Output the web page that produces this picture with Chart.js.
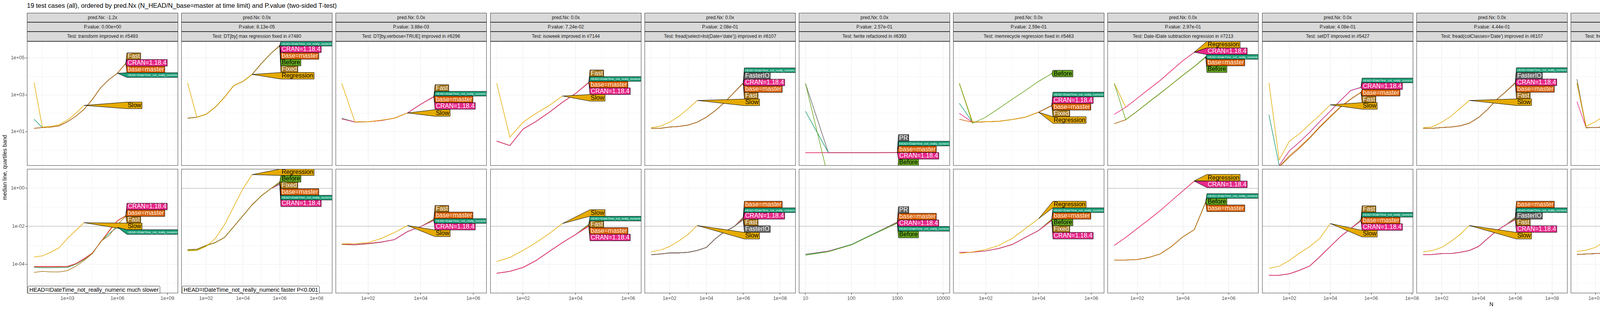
<!DOCTYPE html>
<html>
<head>
<meta charset="utf-8">
<script src="https://cdn.jsdelivr.net/npm/chart.js@4/dist/chart.umd.min.js"></script>
<style>
body{margin:0;background:#fff;width:7600px;height:800px;position:relative;overflow:hidden;font-family:"Liberation Sans",Arial,sans-serif;}
.strip{position:absolute;background:#d9d9d9;border:1px solid #333;box-sizing:border-box;font-size:12px;color:#1a1a1a;text-align:center;line-height:22px;white-space:nowrap;overflow:hidden;}
.rstrip{position:absolute;background:#d9d9d9;border:1px solid #333;box-sizing:border-box;font-size:12px;color:#1a1a1a;writing-mode:vertical-rl;text-align:center;line-height:20px;}
.note{position:absolute;background:#fff;border:1px solid #333;border-radius:3px;font-size:14.5px;line-height:18px;padding:0 3px;white-space:nowrap;color:#000;}
canvas{position:absolute;}
</style>
</head>
<body>
<script>
// ---- data ----
const N_half = [10, 31.6, 100, 316, 1000, 3162, 1e4, 31623, 1e5, 316228, 1e6, 3162278, 1e7];
const N_fwrite = [10, 31.6, 100, 316, 1000];
const N_melt = [10, 31.6, 100, 316, 1000];
const N_disk = [1, 2, 4, 8, 16, 32];

const predNx = ["-1.2x","0.0x","0.0x","0.0x","0.0x","0.0x","0.0x","0.0x","0.0x","0.0x","0.0x","0.0x","0.0x","0.0x","0.0x","0.0x","0.0x","0.0x","0.0x"];
const pValues = ["0.00e+00","8.13e-05","3.88e-03","7.24e-02","2.08e-01","2.57e-01","2.59e-01","2.97e-01","4.08e-01","4.44e-01","4.59e-01","5.97e-01","7.54e-01","7.68e-01","7.81e-01","8.75e-01","8.82e-01","9.19e-01","9.88e-01"];
const testNames = ["transform improved in #5493","DT[by] max regression fixed in #7480","DT[by,verbose=TRUE] improved in #6296","isoweek improved in #7144","fread(select=list(Date='date')) improved in #6107","fwrite refactored in #6393","memrecycle regression fixed in #5463","Date-IDate subtraction regression in #7213","setDT improved in #5427","fread(colClasses='Date') improved in #6107","fread(colClasses=list(Date='date')) improved in #6107","forderv(retGrp=F) improved in #4386","DT[,.SD] improved in #4501","shallow regression fixed in #4440","as.data.table.array improved in #7019","melt improved in #5054","fread disk overhead improved in #6925","DT[by] fixed in #4558","forderv(retGrp=T) improved in #4386"];

const xt_e369 = ["1e+03","1e+06","1e+09"];
const xt_e2468 = ["1e+02","1e+04","1e+06","1e+08"];
const xt_e246 = ["1e+02","1e+04","1e+06"];
const xt_plain4 = ["10","100","1000","10000"];
const xt_plain2 = ["1","10","100"];
const yt_kb = ["1e+01","1e+03","1e+05"];
const yt_sec = ["1e-04","1e-02","1e+00"];

const kb_transform = [
  ["Slow", [4700, 18, 19.5, 24, 43, 100, 270]],
  ["Fast", [15.5, 17, 18, 21, 35, 69, 166, 575, 2500, 6900, 15000, 52000]],
  ["base", [15.5, 17, 18, 21, 35, 69, 166, 575, 2500, 6900, 15000, 50000]],
  ["CRAN", [15.5, 17, 18, 21, 35, 69, 166, 575, 2500, 6900, 15000, 51000]],
  ["HEAD", [48, 17, 18, 21, 35, 69, 166, 575, 2500, 6900, 15000]]
];
const sec_transform = [
  ["Slow", [2.45e-4, 2.8e-4, 4.3e-4, 7.4e-4, 2.3e-3, 6e-3, 1.55e-2]],
  ["Fast", [3.8e-5, 4.3e-5, 4e-5, 4e-5, 4.7e-5, 7.9e-5, 1.6e-4, 3.7e-4, 1.6e-3, 3.3e-3, 1.2e-2, 3.4e-2]],
  ["base", [7.5e-5, 7.3e-5, 7.3e-5, 7.4e-5, 7.5e-5, 1.05e-4, 1.9e-4, 3.9e-4, 1.5e-3, 5.5e-3, 1.9e-2, 3.5e-2]],
  ["CRAN", [7.9e-5, 7.9e-5, 7.9e-5, 7.9e-5, 7.9e-5, 1.1e-4, 2e-4, 4e-4, 1.5e-3, 6e-3, 2e-2, 3.6e-2]],
  ["HEAD", [6.9e-5, 6.7e-5, 6.7e-5, 6.8e-5, 6.9e-5, 1e-4, 1.8e-4, 3.7e-4, 1.6e-3, 4.2e-3, 8.9e-3]]
];

const kb_maxreg = [
  ["Regression", [4400, 62, 89, 214, 740, 3200, 5400, 12900]],
  ["Fixed", [54, 62, 89, 214, 740, 3200, 5400, 12900, 50000, 170000, 450000]],
  ["Before", [54, 62, 89, 214, 740, 3200, 5400, 12900, 50000, 170000, 460000]],
  ["base", [54, 62, 89, 214, 740, 3200, 5400, 12900, 50000, 170000, 470000]],
  ["CRAN", [54, 62, 89, 214, 740, 3200, 5400, 12900, 50000, 170000, 480000]],
  ["HEAD", [54, 62, 89, 214, 740, 3200, 5400, 12900, 50000, 170000, 490000]]
];
const sec_maxreg = [
  ["Regression", [5.1e-4, 5.4e-4, 8.7e-4, 2.3e-3, 1.2e-2, 0.107, 0.93, 5.2]],
  ["Fixed", [6e-4, 6.2e-4, 1e-3, 1.4e-3, 2.6e-3, 9.6e-3, 3.6e-2, 0.135, 0.4, 0.93, 2.1]],
  ["Before", [5.5e-4, 5.7e-4, 9.4e-4, 1.4e-3, 2.6e-3, 9.6e-3, 3.6e-2, 0.135, 0.4, 0.93, 2.2]],
  ["base", [6e-4, 6.2e-4, 1e-3, 1.4e-3, 2.6e-3, 9.6e-3, 3.6e-2, 0.135, 0.4, 0.93, 2.0]],
  ["HEAD", [6e-4, 6.2e-4, 1e-3, 1.4e-3, 2.6e-3, 9.6e-3, 3.6e-2, 0.135, 0.4, 0.93, 1.8]],
  ["CRAN", [6e-4, 6.2e-4, 1e-3, 1.4e-3, 2.6e-3, 9.6e-3, 3.6e-2, 0.135, 0.4, 0.93, 1.6]]
];

const kb_verbose = [
  ["Slow", [4200, 35, 35, 43, 54, 105]],
  ["CRAN", [50, 34, 35, 41, 55, 105, 310, 780]],
  ["base", [50, 34, 35, 41, 55, 105, 310, 790]],
  ["HEAD", [54, 34, 35, 41, 55, 105, 310, 800]],
  ["Fast", [50, 34, 35, 41, 55, 105, 310, 820]]
];
const sec_verbose = [
  ["Slow", [1.2e-3, 1.25e-3, 1.4e-3, 2.3e-3, 4.7e-3, 1.1e-2]],
  ["CRAN", [1.17e-3, 1.1e-3, 1.26e-3, 1.5e-3, 2e-3, 5.3e-3, 9.6e-3, 2.0e-2]],
  ["HEAD", [1.17e-3, 1.1e-3, 1.26e-3, 1.5e-3, 2e-3, 5.3e-3, 9.6e-3, 2.1e-2]],
  ["base", [1.17e-3, 1.1e-3, 1.26e-3, 1.5e-3, 2e-3, 5.3e-3, 9.6e-3, 2.2e-2]],
  ["Fast", [1.1e-3, 1.05e-3, 1.2e-3, 1.45e-3, 2e-3, 5.3e-3, 9.6e-3, 2.4e-2]]
];

const kb_isoweek = [
  ["Slow", [4200, 5.1, 33, 100, 270, 870]],
  ["CRAN", [3.1, 1.8, 14, 37, 115, 400, 1200, 4600]],
  ["base", [3.1, 1.8, 14, 37, 115, 400, 1200, 4700]],
  ["HEAD", [3.1, 1.8, 14, 37, 115, 400, 1200, 4800]],
  ["Fast", [3.1, 1.8, 14, 37, 115, 400, 1200, 4900]]
];
const sec_isoweek = [
  ["Slow", [1.44e-4, 2.3e-4, 5.4e-4, 1.4e-3, 4.2e-3, 1.4e-2]],
  ["CRAN", [3.4e-5, 4.3e-5, 6.9e-5, 1.6e-4, 4.8e-4, 1.4e-3, 3.7e-3, 1.0e-2]],
  ["base", [3.4e-5, 4.3e-5, 6.9e-5, 1.6e-4, 4.8e-4, 1.4e-3, 3.7e-3, 1.1e-2]],
  ["Fast", [3.4e-5, 4.3e-5, 6.9e-5, 1.6e-4, 4.8e-4, 1.4e-3, 3.7e-3, 1.2e-2]],
  ["HEAD", [3.4e-5, 4.3e-5, 6.9e-5, 1.6e-4, 4.8e-4, 1.4e-3, 3.7e-3, 1.3e-2]]
];

const kb_select = [
  ["Slow", [16.6, 20, 33, 69, 174, 500]],
  ["Fast", [15.5, 15.5, 18, 19.5, 23, 33, 62, 145, 400, 1350, 4200]],
  ["base", [15.5, 15.5, 18, 19.5, 23, 33, 62, 145, 400, 1350, 4300]],
  ["CRAN", [15.5, 15.5, 18, 19.5, 23, 33, 62, 145, 400, 1350, 4400]],
  ["FasterIO", [15.5, 15.5, 18, 19.5, 23, 33, 62, 145, 400, 1350, 4500]],
  ["HEAD", [15.5, 15.5, 18, 19.5, 23, 33, 62, 145, 400, 1350, 4600]]
];
const sec_select = [
  ["Slow", [4.6e-4, 5.6e-4, 8.7e-4, 1.7e-3, 3.7e-3, 1.1e-2]],
  ["FasterIO", [3.2e-4, 3.5e-4, 4e-4, 4e-4, 4.3e-4, 5.4e-4, 7.8e-4, 2.3e-3, 5.3e-3, 9.6e-3, 2.2e-2]],
  ["Fast", [3.2e-4, 3.5e-4, 4e-4, 4e-4, 4.3e-4, 5.4e-4, 7.8e-4, 2.3e-3, 5.3e-3, 9.6e-3, 2.4e-2]],
  ["CRAN", [3.2e-4, 3.5e-4, 4e-4, 4e-4, 4.3e-4, 5.4e-4, 7.8e-4, 2.3e-3, 5.3e-3, 9.6e-3, 2.6e-2]],
  ["HEAD", [3.2e-4, 3.5e-4, 4e-4, 4e-4, 4.3e-4, 5.4e-4, 7.8e-4, 2.3e-3, 5.3e-3, 9.6e-3, 2.8e-2]],
  ["base", [3.2e-4, 3.5e-4, 4e-4, 4e-4, 4.3e-4, 5.4e-4, 7.8e-4, 2.3e-3, 5.3e-3, 9.6e-3, 3.0e-2]]
];

const kb_fwrite = [
  ["Before", [4200, 0.03, 0.03, 0.03, 0.03]],
  ["CRAN", [0.74, 0.74, 0.74, 0.74, 0.74]],
  ["base", [0.74, 0.74, 0.74, 0.74, 0.745]],
  ["HEAD", [130, 0.74, 0.74, 0.74, 0.75]],
  ["PR", [4200, 0.74, 0.74, 0.74, 0.76]]
];
const sec_fwrite = [
  ["Before", [3e-4, 4.6e-4, 1.05e-3, 4e-3, 1.45e-2]],
  ["HEAD", [3.3e-4, 4.8e-4, 1.1e-3, 4.2e-3, 1.5e-2]],
  ["CRAN", [3.4e-4, 5e-4, 1.1e-3, 4.2e-3, 1.55e-2]],
  ["base", [3.3e-4, 4.8e-4, 1.1e-3, 4.2e-3, 1.6e-2]],
  ["PR", [3.3e-4, 4.8e-4, 1.1e-3, 4.2e-3, 1.7e-2]]
];

const kb_memrecycle = [
  ["Before", [4200, 29, 62, 186, 575, 1740, 5400, 14400]],
  ["Regression", [4200, 35, 35, 37, 46, 62, 115]],
  ["Fixed", [4200, 33, 35, 37, 46, 62, 115, 255]],
  ["base", [48, 33, 35, 37, 46, 62, 115, 260]],
  ["CRAN", [100, 33, 35, 37, 46, 62, 115, 265]],
  ["HEAD", [350, 33, 35, 37, 46, 62, 115, 270]]
];
const sec_memrecycle = [
  ["Regression", [3.7e-4, 4.5e-4, 6e-4, 1e-3, 2.3e-3, 7.6e-3, 2.5e-2]],
  ["CRAN", [4.3e-4, 4.4e-4, 5.1e-4, 6.9e-4, 1.1e-3, 2.6e-3, 6e-3, 2.0e-2]],
  ["Fixed", [4.3e-4, 4.4e-4, 5.1e-4, 6.9e-4, 1.1e-3, 2.6e-3, 6e-3, 2.1e-2]],
  ["Before", [4.3e-4, 4.4e-4, 5.1e-4, 6.9e-4, 1.1e-3, 2.6e-3, 6e-3, 2.2e-2]],
  ["base", [4.3e-4, 4.4e-4, 5.1e-4, 6.9e-4, 1.1e-3, 2.6e-3, 6e-3, 2.3e-2]],
  ["HEAD", [4.3e-4, 4.4e-4, 5.1e-4, 6.9e-4, 1.1e-3, 2.6e-3, 6e-3, 2.4e-2]]
];

const kb_dateidate = [
  ["Before", [4200, 45, 130, 400, 1200, 3700, 11700, 34500, 110000]],
  ["base", [27.5, 45, 130, 400, 1200, 3700, 11700, 34500, 115000]],
  ["HEAD", [27.5, 45, 130, 400, 1200, 3700, 11700, 34500, 120000]],
  ["CRAN", [89, 214, 650, 2000, 6000, 21000, 72000, 205000]],
  ["Regression", [4200, 214, 650, 2000, 6000, 21000, 72000, 210000]]
];
const sec_dateidate = [
  ["base", [1.7e-4, 1.7e-4, 1.8e-4, 2.3e-4, 3.5e-4, 8.7e-4, 2.8e-3, 6.7e-3, 0.18]],
  ["Before", [1.7e-4, 1.7e-4, 1.8e-4, 2.3e-4, 3.5e-4, 8.7e-4, 2.8e-3, 6.7e-3, 0.19]],
  ["HEAD", [1.7e-4, 1.7e-4, 1.8e-4, 2.3e-4, 3.5e-4, 8.7e-4, 2.8e-3, 6.7e-3, 0.2]],
  ["CRAN", [1e-3, 2.6e-3, 7.6e-3, 2.2e-2, 6.6e-2, 0.22, 0.73, 2.35]],
  ["Regression", [1e-3, 2.6e-3, 7.6e-3, 2.2e-2, 6.6e-2, 0.22, 0.73, 2.45]]
];

const kb_setdt = [
  ["Slow", [4400, 0.3, 3.1, 8, 26, 83, 290]],
  ["Fast", [0.1, 0.12, 0.43, 1.3, 4.5, 18, 62, 214, 575, 1350]],
  ["base", [0.1, 0.13, 0.5, 1.5, 5, 20, 70, 230, 600, 1400]],
  ["CRAN", [0.1, 0.15, 0.93, 2.8, 9.5, 37, 130, 500, 1740, 2500]],
  ["HEAD", [83, 0.15, 0.93, 2.8, 9.5, 37, 130, 500, 1740, 2600]]
];
const sec_setdt = [
  ["Slow", [6.2e-5, 8e-5, 1.6e-4, 4e-4, 8.7e-4, 2.4e-3, 1.4e-2]],
  ["CRAN", [2.7e-5, 2.7e-5, 3.2e-5, 4.9e-5, 8.3e-5, 2.6e-4, 8.7e-4, 2.9e-3, 7.6e-3, 1.9e-2]],
  ["base", [2.7e-5, 2.7e-5, 3.2e-5, 4.9e-5, 8.3e-5, 2.6e-4, 8.7e-4, 2.9e-3, 7.6e-3, 2.0e-2]],
  ["HEAD", [2.7e-5, 2.7e-5, 3.2e-5, 4.9e-5, 8.3e-5, 2.6e-4, 8.7e-4, 2.9e-3, 7.6e-3, 2.1e-2]],
  ["Fast", [2.7e-5, 2.7e-5, 3.2e-5, 4.9e-5, 8.3e-5, 2.6e-4, 8.7e-4, 2.9e-3, 7.6e-3, 2.2e-2]]
];

const kb_ccdate = [
  ["Slow", [16.6, 18.6, 33, 69, 186, 500]],
  ["Fast", [15.5, 15.5, 17, 18, 21, 29, 59, 166, 575, 1550, 4300]],
  ["base", [15.5, 15.5, 17, 18, 21, 29, 59, 166, 575, 1550, 4400]],
  ["CRAN", [15.5, 15.5, 17, 18, 21, 29, 59, 166, 575, 1550, 4500]],
  ["FasterIO", [15.5, 15.5, 17, 18, 21, 29, 59, 166, 575, 1550, 4600]],
  ["HEAD", [15.5, 15.5, 17, 18, 21, 29, 59, 166, 575, 1550, 4700]]
];
const sec_ccdate = [
  ["Slow", [4.5e-4, 5.4e-4, 7.8e-4, 1.6e-3, 3.7e-3, 1.1e-2]],
  ["CRAN", [3.2e-4, 3.3e-4, 3.7e-4, 3.7e-4, 4.3e-4, 5.4e-4, 8.7e-4, 2.3e-3, 6e-3, 1.2e-2, 2.2e-2]],
  ["Fast", [3.2e-4, 3.3e-4, 3.7e-4, 3.7e-4, 4.3e-4, 5.4e-4, 8.7e-4, 2.3e-3, 6e-3, 1.2e-2, 2.4e-2]],
  ["FasterIO", [3.2e-4, 3.3e-4, 3.7e-4, 3.7e-4, 4.3e-4, 5.4e-4, 8.7e-4, 2.3e-3, 6e-3, 1.2e-2, 2.6e-2]],
  ["HEAD", [3.2e-4, 3.3e-4, 3.7e-4, 3.7e-4, 4.3e-4, 5.4e-4, 8.7e-4, 2.3e-3, 6e-3, 1.2e-2, 2.8e-2]],
  ["base", [3.2e-4, 3.3e-4, 3.7e-4, 3.7e-4, 4.3e-4, 5.4e-4, 8.7e-4, 2.3e-3, 6e-3, 1.2e-2, 3.0e-2]]
];

const kb_cclist = [
  ["Slow", [4400, 20, 35, 78, 186, 500]],
  ["Fast", [4300, 16.6, 17, 18, 21, 30, 54, 145, 500, 1550, 4300]],
  ["CRAN", [430, 16.6, 17, 18, 21, 30, 54, 145, 500, 1550, 4400]],
  ["base", [4300, 16.6, 17, 18, 21, 30, 54, 145, 500, 1550, 4500]],
  ["HEAD", [4300, 16.6, 17, 18, 21, 30, 54, 145, 500, 1550, 4600]],
  ["FasterIO", [7200, 16.6, 17, 18, 21, 30, 54, 145, 500, 1550, 4700]]
];
const sec_cclist = [
  ["Slow", [4.8e-4, 5.6e-4, 7.8e-4, 1.6e-3, 3.7e-3, 1.1e-2]],
  ["Fast", [3.3e-4, 3.5e-4, 3.7e-4, 3.9e-4, 4.3e-4, 5.5e-4, 7.8e-4, 1.8e-3, 4.2e-3, 1.1e-2, 2.4e-2]],
  ["CRAN", [3.3e-4, 3.5e-4, 3.7e-4, 3.9e-4, 4.3e-4, 5.5e-4, 7.8e-4, 1.8e-3, 4.2e-3, 1.1e-2, 2.6e-2]],
  ["FasterIO", [3.3e-4, 3.5e-4, 3.7e-4, 3.9e-4, 4.3e-4, 5.5e-4, 7.8e-4, 1.8e-3, 4.2e-3, 1.1e-2, 2.8e-2]],
  ["base", [3.3e-4, 3.5e-4, 3.7e-4, 3.9e-4, 4.3e-4, 5.5e-4, 7.8e-4, 1.8e-3, 4.2e-3, 1.1e-2, 3.0e-2]],
  ["HEAD", [3.3e-4, 3.5e-4, 3.7e-4, 3.9e-4, 4.3e-4, 5.5e-4, 7.8e-4, 1.8e-3, 4.2e-3, 1.1e-2, 3.2e-2]]
];

const kb_forderF = [
  ["HEAD", [0.022, 0.022, 0.022, 0.022, 0.022, 0.022, 0.022, 0.022, 0.022, 0.022, 0.022, 0.022, 0.022]],
  ["CRAN", [0.021, 0.021, 0.021, 0.021, 0.021, 0.021, 0.021, 0.021, 0.021, 0.021, 0.021, 0.021, 0.021]],
  ["base", [0.02, 0.02, 0.02, 0.02, 0.02, 0.02, 0.02, 0.02, 0.02, 0.02, 0.02, 0.02, 0.02]],
  ["Slow", [0.02, 0.13, 0.45, 1.4, 4.3, 12.6, 40, 126, 400, 1260, 3700, 11700]],
  ["Fast", [0.02, 0.13, 0.45, 1.4, 4.3, 12.6, 40, 126, 400, 1260, 3700, 11700, 50000]]
];
const sec_forderF = [
  ["Slow", [1.7e-5, 1.7e-5, 1.8e-5, 1.8e-5, 2.1e-5, 4e-5, 8e-5, 1.6e-4, 4e-4, 8.7e-4, 3.5e-3, 1.45e-2]],
  ["CRAN", [1.62e-5, 1.62e-5, 1.62e-5, 1.62e-5, 1.62e-5, 1.62e-5, 1.62e-5, 1.62e-5, 1.62e-5, 1.62e-5, 1.62e-5, 1.62e-5, 1.62e-5]],
  ["base", [1.64e-5, 1.64e-5, 1.64e-5, 1.64e-5, 1.64e-5, 1.64e-5, 1.64e-5, 1.64e-5, 1.64e-5, 1.64e-5, 1.64e-5, 1.64e-5, 1.64e-5]],
  ["Fast", [1.66e-5, 1.66e-5, 1.66e-5, 1.66e-5, 1.66e-5, 1.66e-5, 1.66e-5, 1.66e-5, 1.66e-5, 1.66e-5, 1.66e-5, 1.66e-5, 1.66e-5]],
  ["HEAD", [1.7e-5, 1.7e-5, 1.7e-5, 1.7e-5, 1.7e-5, 1.7e-5, 1.7e-5, 1.7e-5, 1.7e-5, 1.7e-5, 1.7e-5, 1.7e-5, 1.7e-5]]
];

const kb_sd = [
  ["Slower", [4400, 50, 50, 62, 86, 160, 330, 430]],
  ["Slow", [4400, 48, 49, 59, 80, 123, 270, 650, 1480, 2500]],
  ["base", [69, 48, 49, 59, 80, 123, 270, 650, 1480, 3240, 7600]],
  ["CRAN", [160, 48, 49, 59, 80, 123, 270, 650, 1480, 3240, 7800]],
  ["HEAD", [186, 48, 49, 59, 80, 123, 270, 650, 1480, 3240, 8000]],
  ["Fast", [4400, 48, 49, 59, 80, 123, 270, 650, 1480, 3240, 8200]]
];
const sec_sd = [
  ["Slower", [4.8e-4, 4.8e-4, 5e-4, 6e-4, 8.7e-4, 1.8e-3, 3.7e-3, 1.1e-2]],
  ["Slow", [3.3e-4, 3.3e-4, 3.3e-4, 3.4e-4, 4.3e-4, 5.1e-4, 7.8e-4, 1.6e-3, 6e-3, 2e-2]],
  ["base", [4.3e-4, 4.2e-4, 4.3e-4, 4.4e-4, 4.8e-4, 5.1e-4, 6.9e-4, 1e-3, 2.3e-3, 9.6e-3, 4.5e-2]],
  ["Fast", [4.3e-4, 4.2e-4, 4.3e-4, 4.4e-4, 4.8e-4, 5.1e-4, 6.9e-4, 1e-3, 2.3e-3, 9.6e-3, 5e-2]],
  ["CRAN", [4.3e-4, 4.2e-4, 4.3e-4, 4.4e-4, 4.8e-4, 5.1e-4, 6.9e-4, 1e-3, 2.3e-3, 9.6e-3, 5.5e-2]],
  ["HEAD", [4.3e-4, 4.2e-4, 4.3e-4, 4.4e-4, 4.8e-4, 5.1e-4, 6.9e-4, 1e-3, 2.3e-3, 9.6e-3, 6e-2]]
];

const kb_shallow = [
  ["base", [15.5, 15.5, 15.5, 15.5, 15.5, 15.5, 15.5, 15.5, 15.5, 15.5, 15.5, 15.5, 15.4]],
  ["CRAN", [15.5, 15.5, 15.5, 15.5, 15.5, 15.5, 15.5, 15.5, 15.5, 15.5, 15.5, 15.5, 15.5]],
  ["HEAD", [15.5, 15.5, 15.5, 15.5, 15.5, 15.5, 15.5, 15.5, 15.5, 15.5, 15.5, 15.5, 15.6]],
  ["Fixed", [4200, 15.5, 15.5, 15.5, 15.5, 15.5, 15.5, 15.5, 15.5, 15.5, 15.5, 15.5, 15.8]],
  ["Regression", [65, 15.5, 16, 20, 26, 48, 115, 450, 1740, 6900, 27000, 50000, 93000]]
];
const sec_shallow = [
  ["Fixed", [7e-6, 1.45e-5, 1.45e-5, 1.45e-5, 1.45e-5, 1.45e-5, 1.45e-5, 1.45e-5, 1.45e-5, 6.3e-6, 6.3e-6, 8.5e-6, 7e-6]],
  ["base", [1.65e-5, 1.7e-5, 2.4e-5, 2.4e-5, 2.4e-5, 2.4e-5, 2.4e-5, 2.4e-5, 2.4e-5, 1.5e-5, 1.5e-5, 1.5e-5, 1.46e-5]],
  ["CRAN", [1.65e-5, 1.7e-5, 2.4e-5, 2.4e-5, 2.4e-5, 2.4e-5, 2.4e-5, 2.4e-5, 2.4e-5, 1.5e-5, 1.5e-5, 1.5e-5, 1.48e-5]],
  ["HEAD", [1.65e-5, 1.7e-5, 3.6e-5, 2.4e-5, 2.4e-5, 2.4e-5, 2.4e-5, 2.4e-5, 2.4e-5, 1.5e-5, 1.5e-5, 1.5e-5, 1.5e-5]],
  ["Regression", [7e-6, 7e-6, 1.5e-5, 1.5e-5, 1.5e-5, 3e-5, 8.9e-5, 3e-4, 1.26e-3, 6.9e-4, 4.2e-3, 1.2e-2, 2e-2]]
];

const kb_array = [
  ["Slow", [4400, 33, 35, 48, 89, 270, 930, 3200, 11200, 30500, 39000]],
  ["base", [100, 16.6, 18.6, 24, 42.7, 130, 500, 1740, 6000, 16000, 39000, 84000]],
  ["HEAD", [225, 16.6, 18.6, 24, 42.7, 130, 500, 1740, 6000, 16000, 39000, 87000]],
  ["Fast", [4400, 16.6, 18.6, 24, 42.7, 130, 500, 1740, 6000, 16000, 39000, 90000]],
  ["CRAN", [130, 16.6, 18.6, 24, 42.7, 130, 500, 1740, 6000, 16000, 39000, 95000]]
];
const sec_array = [
  ["Slow", [6e-4, 6e-4, 6e-4, 6e-4, 6.2e-4, 7.2e-4, 1e-3, 2.3e-3, 6e-3, 2e-2, 2.5e-2]],
  ["base", [4.1e-4, 4.2e-4, 4.2e-4, 4.2e-4, 4.3e-4, 4.8e-4, 6.9e-4, 1.8e-3, 4.7e-3, 1.2e-2, 1.6e-2]],
  ["CRAN", [4.1e-4, 4.2e-4, 4.2e-4, 4.2e-4, 4.3e-4, 4.8e-4, 6.9e-4, 1.8e-3, 4.7e-3, 1.2e-2, 3.5e-2, 4.6e-2]],
  ["HEAD", [4.1e-4, 4.2e-4, 4.2e-4, 4.2e-4, 4.3e-4, 4.8e-4, 6.9e-4, 1.8e-3, 4.7e-3, 1.2e-2, 3.8e-2, 5.8e-2]],
  ["Fast", [4.1e-4, 4.2e-4, 4.2e-4, 4.2e-4, 4.3e-4, 4.8e-4, 6.9e-4, 1.8e-3, 4.7e-3, 1.2e-2, 4.1e-2, 0.22]]
];

const kb_melt = [
  ["Slow", [4400, 33, 290, 2340]],
  ["base", [50, 33, 290, 2340, 18200]],
  ["CRAN", [50, 33, 290, 2340, 18600]],
  ["HEAD", [50, 33, 290, 2340, 19000]],
  ["Fast", [50, 33, 290, 2340, 19500]]
];
const sec_melt = [
  ["Slow", [1e-4, 2e-4, 1e-3, 1e-2]],
  ["CRAN", [7.9e-5, 1.6e-4, 6.9e-4, 7.6e-3, 4.5e-2]],
  ["base", [7.9e-5, 1.6e-4, 6.9e-4, 7.6e-3, 5e-2]],
  ["HEAD", [7.9e-5, 1.6e-4, 6.9e-4, 7.6e-3, 6e-2]],
  ["Fast", [7.9e-5, 1.6e-4, 6.9e-4, 7.6e-3, 9.5e-2]]
];

const kb_disk = [
  ["base", [18, 35, 71, 140, 290, 560]],
  ["CRAN", [18, 35, 71, 140, 290, 570]],
  ["Fast", [18, 35, 71, 140, 290, 580]],
  ["HEAD", [18, 35, 71, 140, 290, 590]],
  ["Slow", [4400, 35, 71, 140, 290, 600]]
];
const sec_disk = [
  ["Fast", [4.1e-4, 7.8e-4, 1.6e-3, 2.9e-3, 5.5e-3, 1.06e-2]],
  ["CRAN", [4.1e-4, 7.8e-4, 1.6e-3, 2.9e-3, 5.5e-3, 1.08e-2]],
  ["base", [4.1e-4, 7.8e-4, 1.6e-3, 2.9e-3, 5.5e-3, 1.1e-2]],
  ["HEAD", [4.1e-4, 7.8e-4, 1.6e-3, 2.9e-3, 5.5e-3, 1.12e-2]],
  ["Slow", [4.1e-4, 7.8e-4, 1.6e-3, 2.9e-3, 5.5e-3, 1.15e-2]]
];

const kb_by4558 = [
  ["CRAN", [100, 50, 52, 62, 83, 166, 365]],
  ["Fixed", [4400, 50, 52, 62, 83, 166, 370]],
  ["Regression", [4400, 50, 52, 62, 83, 166, 375]],
  ["Before", [4400, 50, 52, 62, 80, 160, 380]],
  ["base", [130, 50, 52, 63, 110, 230, 560, 1700, 5900, 20000]],
  ["HEAD", [225, 50, 52, 63, 110, 230, 560, 1700, 5900, 20500]],
  ["PR7401", [4400, 50, 52, 64, 115, 240, 575, 1740, 6000, 21500]]
];
const sec_by4558 = [
  ["Before", [4.3e-4, 4.4e-4, 5.1e-4, 6.9e-4, 1.1e-3, 3.3e-3, 1.15e-2]],
  ["CRAN", [4.3e-4, 4.4e-4, 5.1e-4, 6.9e-4, 1.1e-3, 3.3e-3, 1.2e-2]],
  ["Fixed", [4.3e-4, 4.4e-4, 5.1e-4, 6.9e-4, 1.1e-3, 3.3e-3, 1.25e-2]],
  ["Regression", [4.5e-4, 4.7e-4, 5.4e-4, 7.8e-4, 1.4e-3, 4.7e-3, 2.2e-2]],
  ["PR7401", [6.5e-4, 6.6e-4, 6.6e-4, 6.8e-4, 7.8e-4, 9.1e-4, 1.4e-3, 4.2e-3, 1.2e-2, 3.5e-2]],
  ["HEAD", [4.4e-4, 4.5e-4, 5.2e-4, 7e-4, 1.1e-3, 2.5e-3, 5e-3, 8e-3, 1.5e-2, 3.8e-2]],
  ["base", [4.4e-4, 4.5e-4, 5.2e-4, 7e-4, 1.1e-3, 2.5e-3, 5e-3, 8e-3, 1.5e-2, 4e-2]]
];

const kb_forderT = [
  ["base", [0.02, 0.02, 0.02, 0.02, 0.02, 0.02, 0.02, 0.02, 0.02, 0.02, 0.02, 0.02, 0.02]],
  ["CRAN", [0.021, 0.021, 0.021, 0.021, 0.021, 0.021, 0.021, 0.021, 0.021, 0.021, 0.021, 0.021, 0.021]],
  ["HEAD", [14.5, 0.022, 0.022, 0.022, 0.022, 0.022, 0.022, 0.022, 0.022, 0.022, 0.022, 0.022, 0.022]],
  ["Slow", [4400, 0.1, 0.43, 1.3, 4, 12, 37, 115, 350, 1200, 3700, 11700]],
  ["Fast", [4400, 0.1, 0.43, 1.3, 4, 12, 37, 115, 350, 1200, 3700, 11700, 48000]]
];
const sec_forderT = [
  ["Slow", [1.65e-5, 1.65e-5, 1.65e-5, 1.7e-5, 1.75e-5, 2.4e-5, 3.8e-5, 8.9e-5, 2.6e-4, 1e-3, 3.7e-3, 1.55e-2]],
  ["HEAD", [1.62e-5, 1.62e-5, 1.62e-5, 1.62e-5, 1.62e-5, 1.62e-5, 1.62e-5, 1.62e-5, 1.62e-5, 1.62e-5, 1.62e-5, 1.62e-5, 1.62e-5]],
  ["CRAN", [1.64e-5, 1.64e-5, 1.64e-5, 1.64e-5, 1.64e-5, 1.64e-5, 1.64e-5, 1.64e-5, 1.64e-5, 1.64e-5, 1.64e-5, 1.64e-5, 1.64e-5]],
  ["base", [1.66e-5, 1.66e-5, 1.66e-5, 1.66e-5, 1.66e-5, 1.66e-5, 1.66e-5, 1.66e-5, 1.66e-5, 1.66e-5, 1.66e-5, 1.66e-5, 1.66e-5]],
  ["Fast", [1.7e-5, 1.7e-5, 1.7e-5, 1.7e-5, 1.7e-5, 1.7e-5, 1.7e-5, 1.7e-5, 1.7e-5, 1.7e-5, 1.7e-5, 1.7e-5, 1.7e-5]]
];

// panel order = strip order; xr is the log10 range of each free x scale
const panels = [
  {kb: kb_transform, sec: sec_transform, N: N_half, xt: xt_e369, xr: [0.575, 9.64], limit: 0.01, note: "HEAD=IDateTime_not_really_numeric much slower"},
  {kb: kb_maxreg, sec: sec_maxreg, N: N_half, xt: xt_e2468, xr: [0.653, 8.86], limit: 1, note: "HEAD=IDateTime_not_really_numeric faster P<0.001"},
  {kb: kb_verbose, sec: sec_verbose, N: N_half, xt: xt_e246, xr: [0.763, 6.51], limit: 0.01},
  {kb: kb_isoweek, sec: sec_isoweek, N: N_half, xt: xt_e246, xr: [0.753, 6.50], limit: 0.01},
  {kb: kb_select, sec: sec_select, N: N_half, xt: xt_e2468, xr: [0.64, 8.85], limit: 0.01},
  {kb: kb_fwrite, sec: sec_fwrite, N: N_fwrite, xt: xt_plain4, xr: [0.856, 4.147], limit: 0.01},
  {kb: kb_memrecycle, sec: sec_memrecycle, N: N_half, xt: xt_e246, xr: [0.764, 6.49], limit: 0.01},
  {kb: kb_dateidate, sec: sec_dateidate, N: N_half, xt: xt_e246, xr: [0.70, 7.31], limit: 1},
  {kb: kb_setdt, sec: sec_setdt, N: N_half, xt: xt_e2468, xr: [0.665, 8.06], limit: 0.01},
  {kb: kb_ccdate, sec: sec_ccdate, N: N_half, xt: xt_e2468, xr: [0.628, 8.84], limit: 0.01},
  {kb: kb_cclist, sec: sec_cclist, N: N_half, xt: xt_e2468, xr: [0.66, 8.87], limit: 0.01},
  {kb: kb_forderF, sec: sec_forderF, N: N_half, xt: xt_e369, xr: [0.583, 10.45], limit: 0.01},
  {kb: kb_sd, sec: sec_sd, N: N_half, xt: xt_e2468, xr: [0.64, 8.85], limit: 0.01},
  {kb: kb_shallow, sec: sec_shallow, N: N_half, xt: xt_e369, xr: [0.53, 10.4], limit: 0.01},
  {kb: kb_array, sec: sec_array, N: N_half, xt: xt_e369, xr: [0.555, 9.64], limit: 0.01},
  {kb: kb_melt, sec: sec_melt, N: N_melt, xt: xt_plain4, xr: [0.864, 4.136], limit: 0.01},
  {kb: kb_disk, sec: sec_disk, N: N_disk, xt: xt_plain2, xr: [-0.106, 2.37], limit: 0.01},
  {kb: kb_by4558, sec: sec_by4558, N: N_half, xt: xt_e2468, xr: [0.669, 8.08], limit: 0.01},
  {kb: kb_forderT, sec: sec_forderT, N: N_half, xt: xt_e369, xr: [0.59, 10.46], limit: 0.01}
];

const versions = {
  HEAD: ["#1B9E77", "#fff", "HEAD=IDateTime_not_really_numeric"],
  base: ["#D95F02", "#fff", "base=master"],
  CRAN: ["#E7298A", "#fff", "CRAN=1.18.4"],
  Before: ["#66A61E", "#000", "Before"],
  Regression: ["#E6AB02", "#000", "Regression"],
  Slow: ["#E6AB02", "#000", "Slow"],
  Fixed: ["#A6761D", "#fff", "Fixed"],
  Fast: ["#A6761D", "#fff", "Fast"],
  FasterIO: ["#666666", "#fff", "FasterIO"],
  Slower: ["#666666", "#fff", "Slower"],
  PR: ["#666666", "#fff", "PR"],
  PR7401: ["#666666", "#fff", "PR7401"]
};

// ---- layout ----
const FONT = '"Liberation Sans", Arial, sans-serif';
const X0 = 69, STEP = 395.2, PW = 387, PH = 319;
const ROW_TOP = [106, 433];
const YR = [[-0.842, 5.906], [-5.518, 1.018]];
const M = 26;

function div(cls, css, text) {
  const d = document.createElement('div');
  if (cls) d.className = cls;
  d.style.cssText = css;
  d.textContent = text;
  document.body.appendChild(d);
  return d;
}

function tickList(labels, lo, hi) {
  const vals = labels.map(Number);
  const out = vals.map((v, k) => ({value: v, lbl: labels[k], minor: false}));
  const lv = vals.map(Math.log10);
  const step = lv[1] - lv[0];
  for (let k = -1; k < lv.length; k++) {
    const m = (k < 0 ? lv[0] - step : lv[k]) + step / 2;
    if (m > lo && m < hi) out.push({value: Math.pow(10, m), lbl: '', minor: true});
  }
  return out.sort((a, b) => a.value - b.value);
}

function stackLabels(items, top, bottom) {
  const n = items.length;
  const c = [0];
  for (let k = 1; k < n; k++) c[k] = c[k - 1] + (items[k - 1].h + items[k].h) / 2;
  const blocks = [];
  items.forEach((it, k) => {
    blocks.push({sum: it.t - c[k], n: 1});
    while (blocks.length > 1) {
      const b = blocks[blocks.length - 1], a = blocks[blocks.length - 2];
      if (a.sum / a.n > b.sum / b.n) { a.sum += b.sum; a.n += b.n; blocks.pop(); } else break;
    }
  });
  const lo = top + items[0].h / 2;
  const hi = Math.max(lo, bottom - items[n - 1].h / 2 - c[n - 1]);
  let k = 0;
  blocks.forEach(b => {
    const z = Math.min(Math.max(b.sum / b.n, lo), hi);
    for (let j = 0; j < b.n; j++, k++) items[k].y = z + c[k];
  });
}

const ggPanel = {
  id: 'ggPanel',
  beforeDatasetsDraw(chart, args, opts) {
    if (!opts.limit) return;
    const {ctx, chartArea: a} = chart;
    const py = chart.scales.y.getPixelForValue(opts.limit);
    ctx.save();
    ctx.strokeStyle = '#bdbdbd';
    ctx.lineWidth = 1.5;
    ctx.beginPath(); ctx.moveTo(a.left, py); ctx.lineTo(a.right, py); ctx.stroke();
    ctx.restore();
  },
  afterDatasetsDraw(chart) {
    const {ctx, chartArea: a} = chart;
    const xs = chart.scales.x, ys = chart.scales.y;
    const items = chart.data.datasets.map(ds => {
      const last = ds.data[ds.data.length - 1];
      return {ds, px: xs.getPixelForValue(last.x), t: ys.getPixelForValue(last.y)};
    });
    const labelX = Math.max(...items.map(it => it.px)) + 3;
    ctx.save();
    items.forEach(it => {
      ctx.font = '16px ' + FONT;
      const w = ctx.measureText(it.ds.label).width;
      const avail = a.right - labelX - 4;
      it.size = w > avail ? 16 * avail / w : 16;
      it.w = w * it.size / 16 + 4;
      it.h = Math.max(12, it.size * 1.06);
    });
    items.sort((p, q) => p.t - q.t);
    stackLabels(items, a.top, a.bottom);
    ctx.beginPath(); ctx.rect(a.left, a.top, a.right - a.left, a.bottom - a.top); ctx.clip();
    items.forEach(it => {
      const top = it.y - it.h / 2, bot = it.y + it.h / 2, R = labelX + it.w;
      ctx.beginPath();
      ctx.moveTo(it.px, it.t);
      ctx.lineTo(labelX, top); ctx.lineTo(R, top); ctx.lineTo(R, bot); ctx.lineTo(labelX, bot);
      ctx.closePath();
      ctx.fillStyle = it.ds.borderColor; ctx.fill();
      ctx.strokeStyle = '#000'; ctx.lineWidth = 1; ctx.stroke();
      ctx.fillStyle = it.ds.textColor;
      ctx.font = it.size.toFixed(2) + 'px ' + FONT;
      ctx.textBaseline = 'middle';
      ctx.fillText(it.ds.label, labelX + 2, it.y + 0.5);
    });
    ctx.restore();
    ctx.save();
    ctx.strokeStyle = '#5a5a5a'; ctx.lineWidth = 1.2;
    ctx.strokeRect(a.left + 0.6, a.top + 0.6, a.right - a.left - 1.2, a.bottom - a.top - 1.2);
    ctx.restore();
  }
};

function axis(labels, range, showLabels, isX) {
  const list = tickList(labels, range[0], range[1]);
  return {
    type: 'logarithmic',
    bounds: 'data',
    min: Math.pow(10, range[0]),
    max: Math.pow(10, range[1]),
    afterBuildTicks: ax => { ax.ticks = list.map(t => ({value: t.value, lbl: t.lbl, minor: t.minor})); },
    afterFit: ax => {
      ax.paddingLeft = 0; ax.paddingRight = 0; ax.paddingTop = 0; ax.paddingBottom = 0;
      if (isX) ax.height = showLabels ? 24 : 0; else ax.width = showLabels ? X0 : 0;
    },
    border: {display: false},
    grid: {
      color: '#ebebeb',
      lineWidth: ctx => (ctx.tick && ctx.tick.minor) ? 0.6 : 1.1,
      drawTicks: showLabels,
      tickLength: 4,
      tickColor: ctx => (ctx.tick && ctx.tick.minor) ? 'rgba(0,0,0,0)' : '#333'
    },
    ticks: {
      display: showLabels,
      autoSkip: false,
      maxRotation: 0,
      padding: 2,
      color: '#4d4d4d',
      font: {family: FONT, size: 12.5},
      callback: (v, k, ts) => ts[k].lbl
    }
  };
}

function makeChart(p, i, row) {
  const series = row === 0 ? p.kb : p.sec;
  const left0 = Math.round(X0 + STEP * i);
  const cLeft = i === 0 ? 0 : left0 - M;
  const cWidth = (i === 0 ? left0 : M) + PW + M;
  const cHeight = PH + (row === 1 ? 24 : 0);
  const cv = document.createElement('canvas');
  cv.width = cWidth; cv.height = cHeight;
  cv.style.left = cLeft + 'px'; cv.style.top = ROW_TOP[row] + 'px';
  document.body.appendChild(cv);
  const datasets = series.map(([key, vals]) => ({
    label: versions[key][2],
    textColor: versions[key][1],
    borderColor: versions[key][0],
    backgroundColor: versions[key][0],
    borderWidth: 1.5,
    pointRadius: 0,
    tension: 0,
    fill: false,
    data: vals.map((v, k) => ({x: p.N[k], y: v}))
  }));
  new Chart(cv, {
    type: 'line',
    data: {datasets},
    options: {
      responsive: false,
      animation: false,
      events: [],
      layout: {padding: {left: i === 0 ? 0 : M, right: M, top: 0, bottom: 0}},
      plugins: {legend: {display: false}, tooltip: {enabled: false}, ggPanel: {limit: row === 1 ? p.limit : 0}},
      scales: {
        x: axis(p.xt, p.xr, row === 1, true),
        y: axis(row === 0 ? yt_kb : yt_sec, YR[row], i === 0, false)
      }
    },
    plugins: [ggPanel]
  });
}

div('', 'position:absolute;left:69px;top:5px;font-size:16.5px;color:#000;white-space:nowrap;',
  '19 test cases (all), ordered by pred.Nx (N_HEAD/N_base=master at time limit) and P.value (two-sided T-test)');

panels.forEach((p, i) => {
  const left = Math.round(X0 + STEP * i);
  div('strip', `left:${left}px;top:33px;width:${PW}px;height:24px;`, 'pred.Nx: ' + predNx[i]);
  div('strip', `left:${left}px;top:57px;width:${PW}px;height:24px;`, 'P.value: ' + pValues[i]);
  div('strip', `left:${left}px;top:81px;width:${PW}px;height:25px;`, 'Test: ' + testNames[i]);
  makeChart(p, i, 0);
  makeChart(p, i, 1);
  if (p.note) div('note', `left:${left + 2}px;top:733px;`, p.note);
});

div('rstrip', 'left:7570px;top:106px;width:22px;height:319px;', 'unit: kilobytes');
div('rstrip', 'left:7570px;top:433px;width:22px;height:319px;', 'unit: seconds');
div('', 'position:absolute;left:4px;top:106px;width:20px;height:646px;writing-mode:vertical-rl;transform:rotate(180deg);text-align:center;font-size:14px;color:#000;',
  'median line, quartiles band');
div('', 'position:absolute;left:3808px;top:772px;width:20px;text-align:center;font-size:14px;color:#000;', 'N');
</script>
</body>
</html>
